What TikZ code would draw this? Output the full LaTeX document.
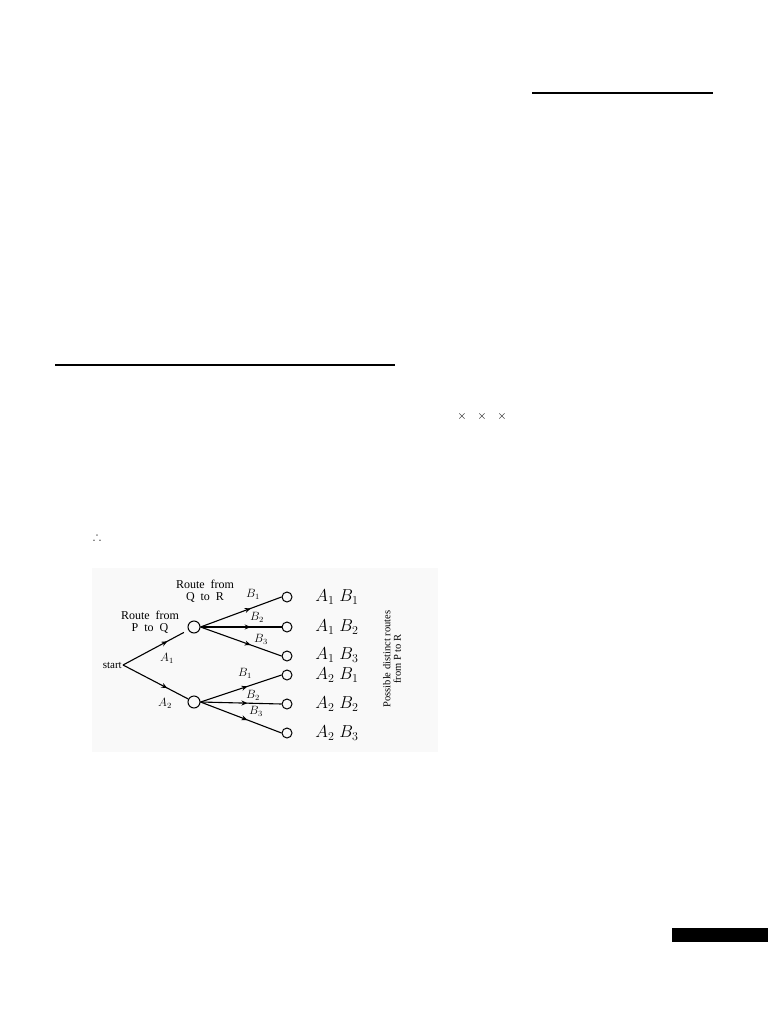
\documentclass[tikz,border=0pt]{standalone}
\usepackage{amssymb}
\usepackage{fontspec}
\setmainfont{Liberation Serif}
\usetikzlibrary{arrows.meta,decorations.markings}

\begin{document}
\begin{tikzpicture}[x=1pt, y=-1pt,
  hub/.style = {draw, circle, line width=1pt, minimum size=12pt, inner sep=0pt},
  leaf/.style = {hub, minimum size=10pt},
  lbl/.style = {font=\fontsize{12}{11.5}\selectfont, align=center, inner sep=1pt},
  route/.style = {font=\fontsize{16.5}{16}\selectfont, anchor=center},
  arr/.style = {line width=1.1pt, postaction=decorate,
    decoration={markings, mark=at position #1 with {\arrow{Stealth[length=6pt,width=5pt]}}}},
  arr/.default = 0.62
  ]
  \useasboundingbox (0,0) rectangle (768,1024);
  % page marks
  \draw [line width=1.5pt] (532,93) -- (713,93);
  \draw [line width=1.2pt] (55,365) -- (395,365);
  \node (x1) [font=\large] at (462,416) {$\times$};
  \node (x2) [font=\large] at (482,416) {$\times$};
  \node (x3) [font=\large] at (502,416) {$\times$};
  \node (so) [font=\large] at (97,536) {$\therefore$};
  \fill (672,928) rectangle (768,942);

  % tree of routes
  \fill [black!2.5] (92,568) rectangle (438,752);
  \node (start) [lbl, font=\fontsize{11}{11}\selectfont, anchor=east] at (123,665) {start};
  \node (hub1) [hub] at (194,627) {};
  \node (hub2) [hub] at (194,702) {};
  \node (pq) [lbl] at (150,622) {Route\ \ from\\P \ to \ Q};
  \node (qr) [lbl] at (205,591) {Route\ \ from\\Q \ to \ R};
  \node (a1) [lbl] at (167,658) {$A_1$};
  \node (a2) [lbl] at (165,703) {$A_2$};

  \foreach \i/\y in {1/597, 2/627, 3/656}
    \node (l1\i) [leaf] at (287,\y) {};
  \foreach \i/\y in {1/675, 2/704, 3/733}
    \node (l2\i) [leaf] at (287,\y) {};

  \draw [arr=0.68, shorten >=5pt] (start.east) -- (hub1);
  \draw [arr=0.68] (start.east) -- (hub2);
  \foreach \i in {1,2,3} {
    \draw [arr] (hub1.east) -- (l1\i.west);
    \draw [arr=0.58] (hub2.east) -- (l2\i.west);
  }

  \node (b11) [lbl] at (253,594) {$B_1$};
  \node (b12) [lbl] at (257,617) {$B_2$};
  \node (b13) [lbl] at (261,639) {$B_3$};
  \node (b21) [lbl] at (245,673) {$B_1$};
  \node (b22) [lbl] at (253,695) {$B_2$};
  \node (b23) [lbl] at (256,711) {$B_3$};

  \node (r11) [route] at (337,597) {$A_1\;B_1$};
  \node (r12) [route] at (337,627) {$A_1\;B_2$};
  \node (r13) [route] at (337,655) {$A_1\;B_3$};
  \node (r21) [route] at (337,675) {$A_2\;B_1$};
  \node (r22) [route] at (337,704) {$A_2\;B_2$};
  \node (r23) [route] at (337,733) {$A_2\;B_3$};

  \node (poss) [lbl, font=\fontsize{10.5}{10.5}\selectfont, rotate=90] at (392,659)
    {Possible distinct routes\\from P to R};
\end{tikzpicture}
\end{document}
